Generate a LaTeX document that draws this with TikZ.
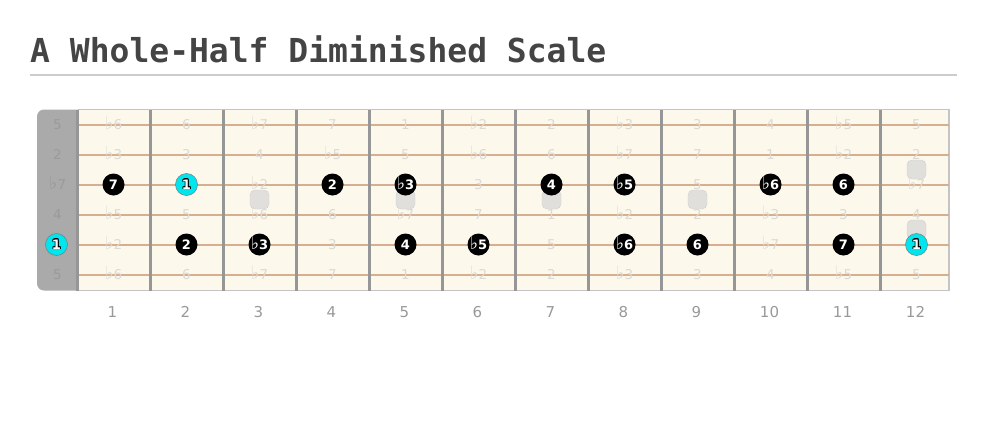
\documentclass[tikz,border=0pt]{standalone}
\usepackage{fontspec}
\setmainfont{DejaVu Sans}
\newfontfamily\titlefont{DejaVu Sans Mono}
\usepackage[copies]{contour}
\contourlength{0.7pt}
\newcommand{\flt}{\raisebox{-0.4pt}{\scalebox{1.35}{♭}}}
\definecolor{titlegray}{HTML}{444444}
\definecolor{rulegray}{HTML}{CCCCCC}
\definecolor{boardcream}{HTML}{FDF8EC}
\definecolor{boardedge}{HTML}{C4C4C4}
\definecolor{nutgray}{HTML}{AAAAAA}
\definecolor{nuttext}{HTML}{9A9A9A}
\definecolor{fretgray}{HTML}{969696}
\definecolor{stringtan}{HTML}{D6AE90}
\definecolor{faintgray}{HTML}{DDD9D2}
\definecolor{markgray}{HTML}{E0DFDC}
\definecolor{markedge}{HTML}{D0D0D0}
\definecolor{rootcyan}{HTML}{00E6EE}
\definecolor{numgray}{HTML}{999999}

\begin{document}
\begin{tikzpicture}[x=1pt, y=-1pt,
	faint/.style={text=faintgray, font=\fontsize{13.5}{14}\selectfont, inner sep=0pt, text height=9.8pt, text depth=0pt},
	opennote/.style={faint, text=nuttext},
	marker/.style={fill=markgray, draw=markedge, rounded corners=5pt, minimum size=19pt, inner sep=0pt},
	dot/.style={circle, fill=black, minimum size=22pt, inner sep=0pt, text=white, font=\bfseries\fontsize{13}{14}\selectfont, text height=9.5pt, text depth=0pt},
	root/.style={dot, fill=rootcyan, draw=gray, line width=0.6pt},
	fretno/.style={text=numgray, font=\fontsize{15}{16}\selectfont, inner sep=0pt, anchor=base},
	fret/.style={line width=3pt, color=fretgray},
	gstring/.style={line width=2pt, color=stringtan}]
			%%%%% START %%%%%
			
			\useasboundingbox (0, 0) rectangle (987, 437);
			
			% title and rule
			\node[anchor=base west, inner sep=0pt, text=titlegray, font=\titlefont\bfseries\fontsize{33}{36}\selectfont] (title) at (30, 62) {A Whole-Half Diminished Scale};
			\draw[line width=2pt, color=rulegray] (30, 75) -- (957, 75);
			
			% board and nut
			\fill[nutgray, rounded corners=7pt] (37, 109.5) rectangle (90, 290.5);
			\fill[boardcream] (78, 109.5) rectangle (949, 290.5);
			\draw[line width=1.2pt, color=boardedge] (78, 109.5) -- (949, 109.5) -- (949, 290.5) -- (78, 290.5);
			
			\draw[gstring] (78, 124.5) -- (949, 124.5);
			\draw[gstring] (78, 154.5) -- (949, 154.5);
			\draw[gstring] (78, 184.5) -- (949, 184.5);
			\draw[gstring] (78, 214.5) -- (949, 214.5);
			\draw[gstring] (78, 244.5) -- (949, 244.5);
			\draw[gstring] (78, 274.5) -- (949, 274.5);
			
			\draw[fret] (77.5, 109.5) -- (77.5, 290.5);
			\draw[fret] (150, 109.5) -- (150, 290.5);
			\draw[fret] (223, 109.5) -- (223, 290.5);
			\draw[fret] (296, 109.5) -- (296, 290.5);
			\draw[fret] (369, 109.5) -- (369, 290.5);
			\draw[fret] (442, 109.5) -- (442, 290.5);
			\draw[fret] (515, 109.5) -- (515, 290.5);
			\draw[fret] (588, 109.5) -- (588, 290.5);
			\draw[fret] (661, 109.5) -- (661, 290.5);
			\draw[fret] (734, 109.5) -- (734, 290.5);
			\draw[fret] (807, 109.5) -- (807, 290.5);
			\draw[fret] (880, 109.5) -- (880, 290.5);
			
			% open strings
			\node[opennote] (s1o) at (57.5, 124.5) {5};
			\node[opennote] (s2o) at (57.5, 154.5) {2};
			\node[opennote] (s3o) at (57.5, 184.5) {\flt7};
			\node[opennote] (s4o) at (57.5, 214.5) {4};
			\node[opennote] (s6o) at (57.5, 274.5) {5};
			
			% faint notes, string 1
			\path[faint] (113.5, 124.5) node (s1f1) {\flt6} (186.5, 124.5) node (s1f2) {6} (259.5, 124.5) node (s1f3) {\flt7}
				(332.5, 124.5) node (s1f4) {7} (405.5, 124.5) node (s1f5) {1} (478.5, 124.5) node (s1f6) {\flt2}
				(551.5, 124.5) node (s1f7) {2} (624.5, 124.5) node (s1f8) {\flt3} (697.5, 124.5) node (s1f9) {3}
				(770.5, 124.5) node (s1f10) {4} (843.5, 124.5) node (s1f11) {\flt5} (916.5, 124.5) node (s1f12) {5};
			% string 2
			\path[faint] (113.5, 154.5) node (s2f1) {\flt3} (186.5, 154.5) node (s2f2) {3} (259.5, 154.5) node (s2f3) {4}
				(332.5, 154.5) node (s2f4) {\flt5} (405.5, 154.5) node (s2f5) {5} (478.5, 154.5) node (s2f6) {\flt6}
				(551.5, 154.5) node (s2f7) {6} (624.5, 154.5) node (s2f8) {\flt7} (697.5, 154.5) node (s2f9) {7}
				(770.5, 154.5) node (s2f10) {1} (843.5, 154.5) node (s2f11) {\flt2} (916.5, 154.5) node (s2f12) {2};
			% string 3
			\path[faint] (259.5, 184.5) node (s3f3) {\flt2} (478.5, 184.5) node (s3f6) {3}
				(697.5, 184.5) node (s3f9) {5} (916.5, 184.5) node (s3f12) {\flt7};
			% string 4
			\path[faint] (113.5, 214.5) node (s4f1) {\flt5} (186.5, 214.5) node (s4f2) {5} (259.5, 214.5) node (s4f3) {\flt6}
				(332.5, 214.5) node (s4f4) {6} (405.5, 214.5) node (s4f5) {\flt7} (478.5, 214.5) node (s4f6) {7}
				(551.5, 214.5) node (s4f7) {1} (624.5, 214.5) node (s4f8) {\flt2} (697.5, 214.5) node (s4f9) {2}
				(770.5, 214.5) node (s4f10) {\flt3} (843.5, 214.5) node (s4f11) {3} (916.5, 214.5) node (s4f12) {4};
			% string 5
			\path[faint] (113.5, 244.5) node (s5f1) {\flt2} (332.5, 244.5) node (s5f4) {3}
				(551.5, 244.5) node (s5f7) {5} (770.5, 244.5) node (s5f10) {\flt7};
			% string 6
			\path[faint] (113.5, 274.5) node (s6f1) {\flt6} (186.5, 274.5) node (s6f2) {6} (259.5, 274.5) node (s6f3) {\flt7}
				(332.5, 274.5) node (s6f4) {7} (405.5, 274.5) node (s6f5) {1} (478.5, 274.5) node (s6f6) {\flt2}
				(551.5, 274.5) node (s6f7) {2} (624.5, 274.5) node (s6f8) {\flt3} (697.5, 274.5) node (s6f9) {3}
				(770.5, 274.5) node (s6f10) {4} (843.5, 274.5) node (s6f11) {\flt5} (916.5, 274.5) node (s6f12) {5};
			
			% inlays
			\node[marker] (m3) at (259.5, 199.5) {};
			\node[marker] (m5) at (405.5, 199.5) {};
			\node[marker] (m7) at (551.5, 199.5) {};
			\node[marker] (m9) at (697.5, 199.5) {};
			\node[marker] (m12a) at (916.5, 169.5) {};
			\node[marker] (m12b) at (916.5, 229.5) {};
			
			% scale notes, string 3
			\node[dot] (g1) at (113.5, 184.5) {7};
			\node[root] (g2) at (186.5, 184.5) {\contour{black}{1}};
			\node[dot] (g4) at (332.5, 184.5) {2};
			\node[dot] (g5) at (405.5, 184.5) {\flt3};
			\node[dot] (g7) at (551.5, 184.5) {4};
			\node[dot] (g8) at (624.5, 184.5) {\flt5};
			\node[dot] (g10) at (770.5, 184.5) {\flt6};
			\node[dot] (g11) at (843.5, 184.5) {6};
			
			% scale notes, string 5
			\node[root] (a0) at (56.5, 244.5) {\contour{black}{1}};
			\node[dot] (a2) at (186.5, 244.5) {2};
			\node[dot] (a3) at (259.5, 244.5) {\flt3};
			\node[dot] (a5) at (405.5, 244.5) {4};
			\node[dot] (a6) at (478.5, 244.5) {\flt5};
			\node[dot] (a8) at (624.5, 244.5) {\flt6};
			\node[dot] (a9) at (697.5, 244.5) {6};
			\node[dot] (a11) at (843.5, 244.5) {7};
			\node[root] (a12) at (916.5, 244.5) {\contour{black}{1}};
			
			% fret numbers
			\path[fretno] (112.5, 317) node (n1) {1} (185.5, 317) node (n2) {2} (258.5, 317) node (n3) {3}
				(331.5, 317) node (n4) {4} (404.5, 317) node (n5) {5} (477.5, 317) node (n6) {6}
				(550.5, 317) node (n7) {7} (623.5, 317) node (n8) {8} (696.5, 317) node (n9) {9}
				(769.5, 317) node (n10) {10} (842.5, 317) node (n11) {11} (915.5, 317) node (n12) {12};
			
			%%%%% END %%%%%
\end{tikzpicture}
\end{document}
